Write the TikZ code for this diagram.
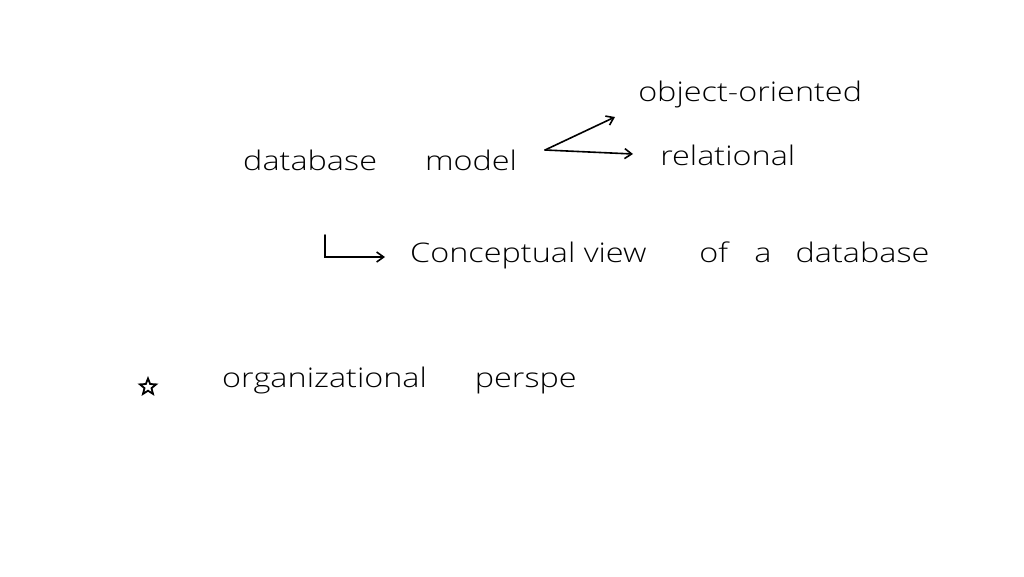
\documentclass[tikz,border=0pt]{standalone}
\usepackage{fontspec}
\usetikzlibrary{arrows.meta,shapes.geometric}
\setmainfont{Open Sans Light}[BoldFont=Open Sans]
\begin{document}
\begin{tikzpicture}[x=1pt,y=-1pt,
  hand/.style={font=\fontsize{27}{30}\selectfont, inner sep=0pt, anchor=west, xscale=1.2},
  pen/.style={line width=1.6pt, line cap=round, -{Straight Barb[length=7pt,width=10pt]}}]
\useasboundingbox[fill=white] (0,0) rectangle (1024,576);
\node[hand] (db) at (243,160) {database\hspace{40pt}model};
\node[hand] (oo) at (638,94) {object-oriented};
\node[hand] (rel) at (660,155) {relational};
\node[hand] (cv) at (410,255) {Conceptual view\hspace{44pt}of\hspace{22pt}a\hspace{20pt}database};
\node[hand] (org) at (222,380) {organizational\hspace{40pt}perspe};
\node[star, star points=5, star point ratio=2.3, draw, line width=1.8pt, minimum size=17pt, inner sep=0pt] (star) at (148,387) {};
\coordinate (fork) at (545,150);
\coordinate (ooend) at (615,117);
\coordinate (relend) at (633,154);
\draw[pen] (fork) -- (ooend);
\draw[pen] (fork) -- (relend);
\coordinate (ltop) at (325,235);
\coordinate (lcorner) at (325,257);
\coordinate (lend) at (385,257);
\draw[pen] (ltop) -- (lcorner) -- (lend);
\end{tikzpicture}
\end{document}
